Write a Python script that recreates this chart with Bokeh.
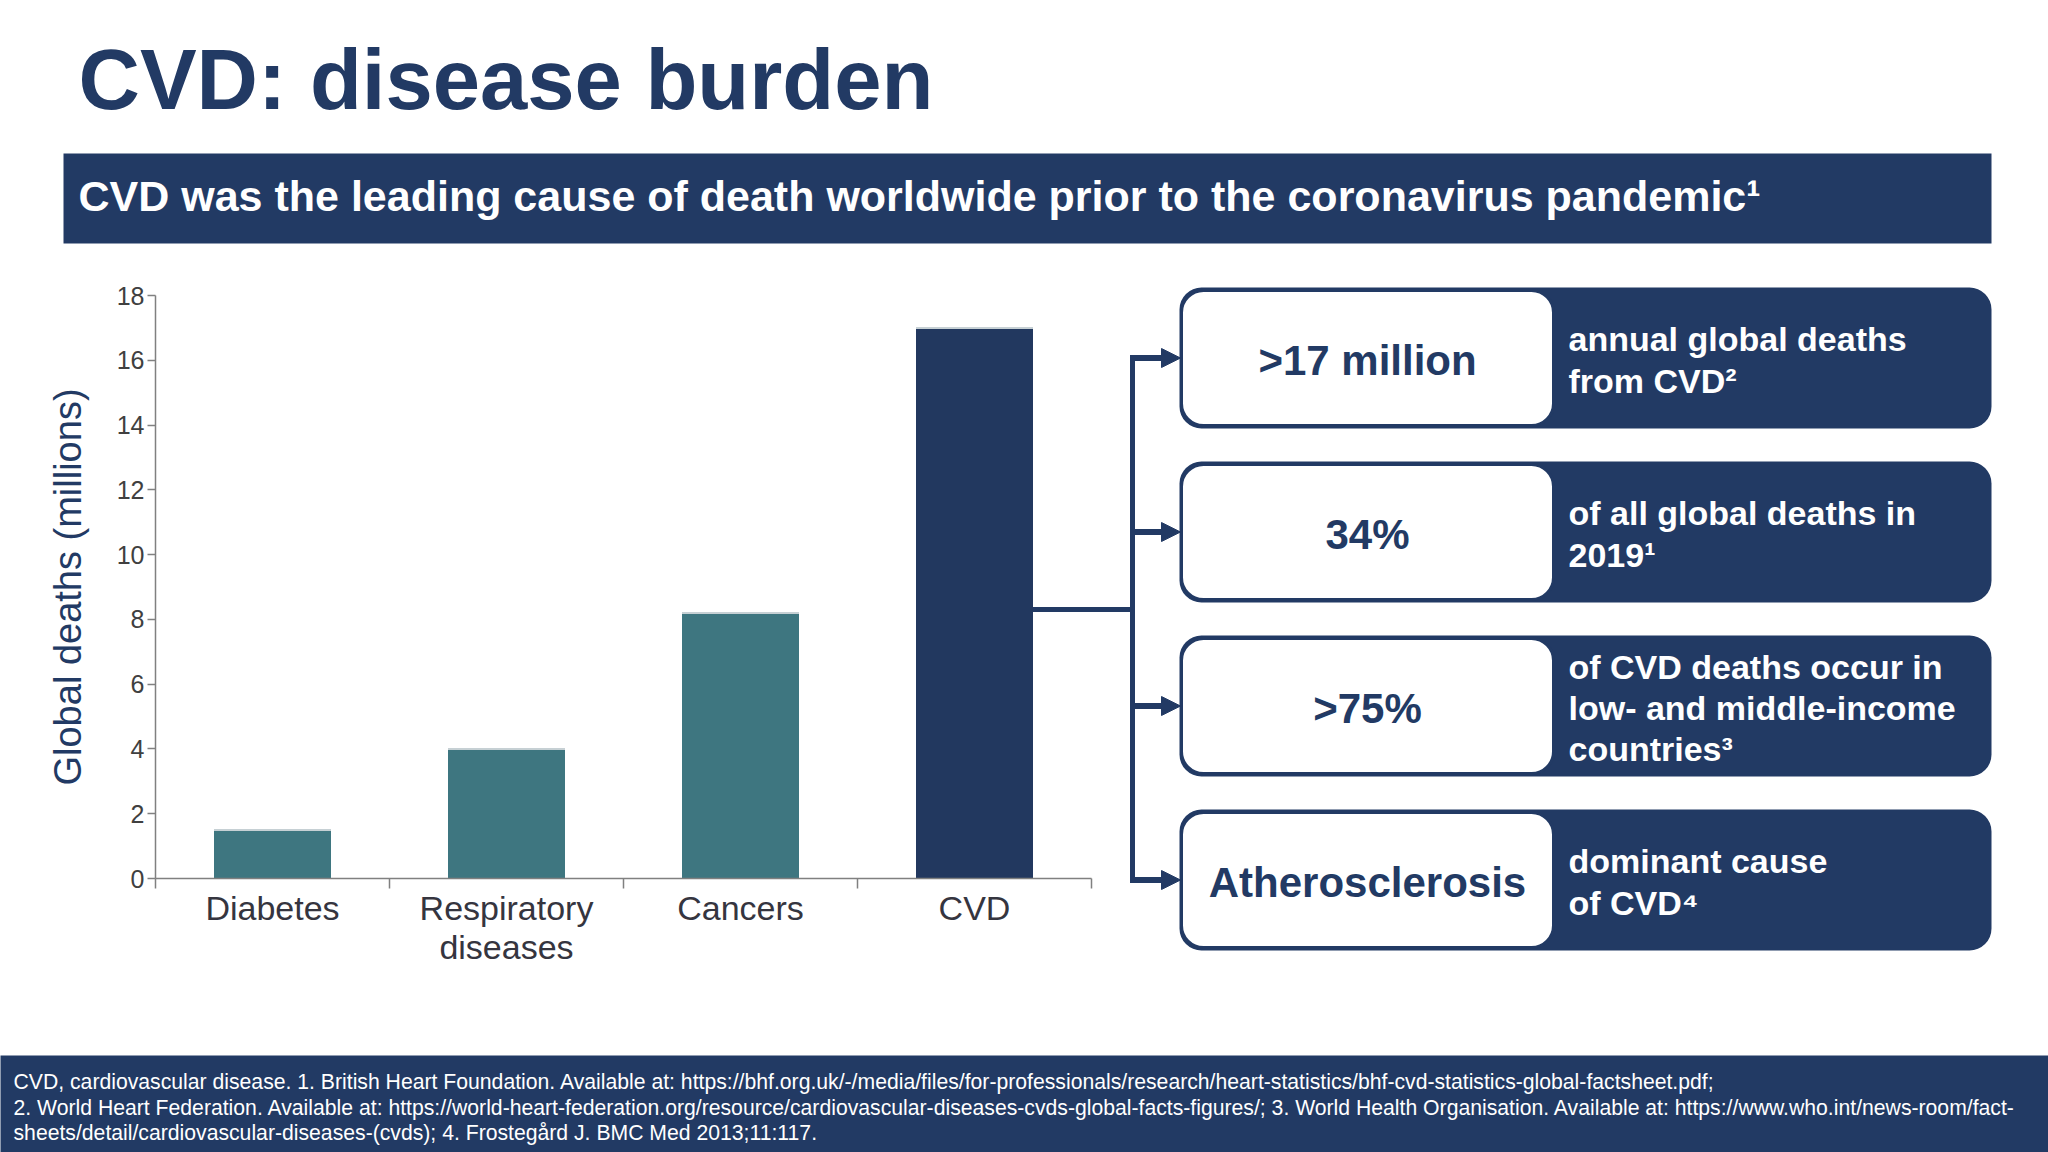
from bokeh.plotting import figure
from bokeh.models import Range1d, FixedTicker
from bokeh.core.properties import value
from bokeh.embed import file_html
from bokeh.resources import INLINE

# ---------------- data ----------------
categories = ["Diabetes", "Respiratory\ndiseases", "Cancers", "CVD"]
deaths_millions = [1.5, 4.0, 8.2, 17.0]
bar_colors = ["#3E7680", "#3E7680", "#3E7680", "#22385F"]
y_ticks = [0, 2, 4, 6, 8, 10, 12, 14, 16, 18]

title_text = "CVD: disease burden"
banner_text = "CVD was the leading cause of death worldwide prior to the coronavirus pandemic\u00b9"
y_label = "Global deaths (millions)"

stat_values = [">17 million", "34%", ">75%", "Atherosclerosis"]
stat_texts = [
    "annual global deaths\nfrom CVD\u00b2",
    "of all global deaths in\n2019\u00b9",
    "of CVD deaths occur in\nlow- and middle-income\ncountries\u00b3",
    "dominant cause\nof CVD\u2074",
]
footer_lines = [
    "CVD, cardiovascular disease. 1. British Heart Foundation. Available at: https://bhf.org.uk/-/media/files/for-professionals/research/heart-statistics/bhf-cvd-statistics-global-factsheet.pdf;",
    "2. World Heart Federation. Available at: https://world-heart-federation.org/resource/cardiovascular-diseases-cvds-global-facts-figures/; 3. World Health Organisation. Available at: https://www.who.int/news-room/fact-",
    "sheets/detail/cardiovascular-diseases-(cvds); 4. Frosteg\u00e5rd J. BMC Med 2013;11:117.",
]

# ---------------- style ----------------
NAVY = "#223A64"
GREY_AXIS = "#808080"
FONT = value("Liberation Sans")
W, H = 2048, 1152
FL, FR, FT, FB = 155, 1091, 295, 878   # chart frame in page pixels

p = figure(width=W, height=H, output_backend="svg", toolbar_location=None,
           x_range=Range1d(0, len(categories)), y_range=Range1d(0, 18),
           min_border_left=FL, min_border_right=W - FR,
           min_border_top=FT, min_border_bottom=H - FB,
           background_fill_color="white", border_fill_color="white")
p.outline_line_color = None
p.grid.visible = False
p.extra_x_ranges = {"px": Range1d(FL, FR)}
p.extra_y_ranges = {"px": Range1d(FB, FT)}

# bars
xs = [i + 0.5 for i in range(len(categories))]
p.vbar(x=xs, top=deaths_millions, width=0.5, fill_color=bar_colors, line_color=None)
p.segment(x0=[x - 0.25 for x in xs], x1=[x + 0.25 for x in xs], y0=deaths_millions,
          y1=deaths_millions, line_color="#C6D0D4", line_width=2)

# y axis
ya = p.yaxis[0]
ya.ticker = FixedTicker(ticks=y_ticks)
ya.axis_label = y_label
ya.axis_label_text_font = "Liberation Sans"
ya.axis_label_text_font_size = "38px"
ya.axis_label_text_font_style = "normal"
ya.axis_label_text_color = NAVY
ya.axis_label_standoff = 25
ya.major_label_text_font = "Liberation Sans"
ya.major_label_text_font_size = "25px"
ya.major_label_text_color = "#404040"
ya.major_label_standoff = 3
ya.major_tick_out = 8
ya.major_tick_in = 0
ya.minor_tick_line_color = None
ya.axis_line_color = GREY_AXIS
ya.axis_line_width = 1.5
ya.major_tick_line_color = GREY_AXIS
ya.major_tick_line_width = 1.5

# x axis: labels at centres, ticks at category boundaries
xa = p.xaxis[0]
xa.ticker = FixedTicker(ticks=xs, minor_ticks=list(range(len(categories) + 1)))
xa.major_label_overrides = {x: c for x, c in zip(xs, categories)}
xa.major_label_text_font = "Liberation Sans"
xa.major_label_text_font_size = "34px"
xa.major_label_text_color = "#35353F"
xa.major_label_text_line_height = 1.03
xa.major_label_standoff = 0
xa.major_tick_out = 0
xa.major_tick_in = 0
xa.minor_tick_out = 10
xa.minor_tick_in = 0
xa.minor_tick_line_color = GREY_AXIS
xa.minor_tick_line_width = 1.5
xa.axis_line_color = GREY_AXIS
xa.axis_line_width = 1.5

kw = dict(x_range_name="px", y_range_name="px", level="overlay")

# title and banner
p.text(x=[78], y=[79], text=[title_text], text_font=FONT, text_font_style="bold",
       text_font_size="85px", text_color=NAVY, text_baseline="middle", **kw)
p.quad(left=[63], right=[1991], top=[153], bottom=[243], fill_color=NAVY, line_color=None, **kw)
p.text(x=[78], y=[195], text=[banner_text], text_font=FONT, text_font_style="bold",
       text_font_size="43px", text_color="white", text_baseline="middle", **kw)

# stat boxes
BOX_TOP0, BOX_STEP, BOX_H = 287, 174, 141
tops = [BOX_TOP0 + i * BOX_STEP for i in range(len(stat_values))]
bots = [t + BOX_H for t in tops]
mids = [(t + b) / 2 for t, b in zip(tops, bots)]
p.quad(left=[1179] * 4, right=[1991] * 4, top=tops, bottom=bots, fill_color=NAVY,
       line_color=None, border_radius=22, **kw)
p.quad(left=[1181] * 4, right=[1553] * 4, top=[t + 3 for t in tops], bottom=[b - 3 for b in bots],
       fill_color="white", line_color=NAVY, line_width=3, border_radius=22, **kw)
p.text(x=[1367] * 4, y=[m + 2 for m in mids], text=stat_values, text_font=FONT,
       text_font_style="bold", text_font_size="42px", text_color=NAVY,
       text_align="center", text_baseline="middle", **kw)
p.text(x=[1568] * 4, y=[m + 2 for m in mids], text=stat_texts, text_font=FONT,
       text_font_style="bold", text_font_size="34px", text_color="white",
       text_align="left", text_baseline="middle", text_line_height=1.08, **kw)

# connectors with arrowheads
CX = 1132
p.line(x=[1032, CX], y=[609, 609], line_color=NAVY, line_width=5, **kw)
p.line(x=[CX, CX], y=[mids[0] - 3, mids[-1] + 3], line_color=NAVY, line_width=5, **kw)
for m in mids:
    p.line(x=[CX, 1164], y=[m, m], line_color=NAVY, line_width=6, **kw)
    p.patch(x=[1161, 1180, 1161], y=[m - 9.5, m, m + 9.5], fill_color=NAVY,
            line_color=NAVY, line_width=1, **kw)

# footer
p.quad(left=[0], right=[W], top=[1055], bottom=[H], fill_color=NAVY, line_color=None, **kw)
p.text(x=[13] * 3, y=[1081, 1107, 1132], text=footer_lines, text_font=FONT,
       text_font_size="21.2px", text_color="white", text_baseline="middle", **kw)

open("out.html", "w").write(file_html(p, INLINE))
